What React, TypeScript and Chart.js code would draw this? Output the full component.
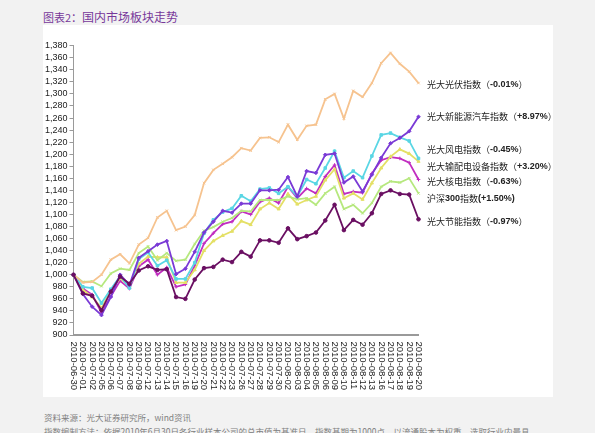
import React, { useEffect, useRef } from "react";
import { Chart, registerables } from "chart.js";

Chart.register(...registerables);

const dates = [
  "2010-06-30", "2010-07-01", "2010-07-02", "2010-07-05", "2010-07-06", "2010-07-07",
  "2010-07-08", "2010-07-09", "2010-07-12", "2010-07-13", "2010-07-14", "2010-07-15",
  "2010-07-16", "2010-07-19", "2010-07-20", "2010-07-21", "2010-07-22", "2010-07-23",
  "2010-07-26", "2010-07-27", "2010-07-28", "2010-07-29", "2010-07-30", "2010-08-02",
  "2010-08-03", "2010-08-04", "2010-08-05", "2010-08-06", "2010-08-09", "2010-08-10",
  "2010-08-11", "2010-08-12", "2010-08-13", "2010-08-16", "2010-08-17", "2010-08-18",
  "2010-08-19", "2010-08-20",
];

const guangfu = [1000, 987, 988, 1000, 1025, 1034, 1019, 1050, 1061, 1095, 1106, 1074, 1080, 1099, 1152, 1174, 1184, 1195, 1210, 1206, 1227, 1228, 1220, 1249, 1224, 1247, 1249, 1291, 1300, 1259, 1305, 1295, 1318, 1351, 1368, 1350, 1337, 1318];
const xinnengyuan = [1000, 968, 947, 933, 963, 1000, 983, 1028, 1039, 1050, 1056, 1001, 1010, 1038, 1070, 1088, 1106, 1103, 1118, 1118, 1140, 1140, 1141, 1162, 1130, 1172, 1169, 1199, 1201, 1153, 1163, 1138, 1166, 1194, 1218, 1227, 1238, 1262];
const fengdian = [1000, 980, 978, 953, 976, 998, 978, 1026, 1037, 1015, 1024, 993, 993, 1020, 1069, 1091, 1104, 1110, 1131, 1122, 1142, 1144, 1135, 1146, 1130, 1158, 1151, 1177, 1205, 1161, 1172, 1161, 1197, 1232, 1235, 1228, 1222, 1193];
const shupeidian = [1000, 975, 963, 945, 974, 994, 981, 1018, 1030, 1029, 1029, 987, 987, 1008, 1040, 1056, 1065, 1072, 1089, 1083, 1109, 1119, 1109, 1134, 1117, 1124, 1130, 1157, 1175, 1127, 1135, 1125, 1152, 1177, 1196, 1208, 1201, 1188];
const hedian = [1000, 977, 967, 937, 964, 990, 977, 1014, 1025, 1000, 1012, 980, 984, 1015, 1052, 1069, 1084, 1088, 1105, 1100, 1121, 1127, 1119, 1146, 1127, 1143, 1135, 1163, 1182, 1134, 1138, 1136, 1168, 1190, 1195, 1193, 1186, 1158];
const hs300 = [1000, 988, 989, 981, 1002, 1010, 1008, 1036, 1047, 1024, 1036, 1023, 1025, 1051, 1073, 1079, 1088, 1094, 1106, 1105, 1124, 1124, 1124, 1130, 1125, 1127, 1116, 1135, 1146, 1109, 1116, 1102, 1119, 1146, 1155, 1153, 1160, 1135];
const jieneng = [1000, 969, 965, 941, 972, 997, 985, 1007, 1014, 1008, 1009, 963, 960, 992, 1011, 1013, 1025, 1021, 1038, 1030, 1057, 1057, 1053, 1077, 1059, 1064, 1070, 1090, 1116, 1074, 1091, 1083, 1102, 1134, 1140, 1134, 1133, 1092];

const seriesNames = ["光大光伏指数", "光大新能源汽车指数", "光大风电指数", "光大输配电设备指数", "光大核电指数", "沪深300指数", "光大节能指数"];
const seriesPct = ["-0.01%", "+8.97%", "-0.45%", "+3.20%", "-0.63%", "+1.50%", "-0.97%"];
const labelAnchors = [1316, 1262, 1208, 1180, 1154, 1126, 1089];

const yMin = 900;
const yMax = 1380;
const yStep = 20;

const colors = ["#F6C38F", "#7A3AD6", "#5AD6E4", "#E4E066", "#C12EC0", "#B6E87E", "#6A0F62"];
const markers = ["crossRot", "rectRot", "rect", "triangle", "cross", "crossRot", "circle"];
const seriesData = [guangfu, xinnengyuan, fengdian, shupeidian, hedian, hs300, jieneng];
const drawOrder = [6, 0, 1, 2, 5, 3, 4];

const CJK = '"Noto Sans CJK SC", "Noto Sans", sans-serif';
const LAT = '"Liberation Sans", Arial, sans-serif';

const labelPlugin = {
  id: "customLabels",
  afterDraw(chart: any) {
    const ctx = chart.ctx;
    const xs = chart.scales.x;
    const ys = chart.scales.y;
    const area = chart.chartArea;
    ctx.save();
    ctx.fillStyle = "#222";
    ctx.font = `9.5px ${LAT}`;
    ctx.textAlign = "left";
    ctx.textBaseline = "middle";
    dates.forEach((d, i) => {
      const x = xs.getPixelForValue(i);
      ctx.save();
      ctx.translate(x, area.bottom + 6.5);
      ctx.rotate(Math.PI / 2);
      ctx.fillText(d, 0, 0);
      ctx.restore();
    });
    seriesNames.forEach((name, i) => {
      const y = ys.getPixelForValue(labelAnchors[i]);
      let x = area.right + 8.5;
      let segs: { t: string; b: boolean }[];
      if (name.startsWith("沪深")) {
        segs = [
          { t: "沪深", b: false },
          { t: "300", b: true },
          { t: "指数", b: false },
          { t: "(" + seriesPct[i] + ")", b: true },
        ];
      } else {
        segs = [
          { t: name, b: false },
          { t: "（", b: false },
          { t: seriesPct[i], b: true },
          { t: "）", b: false },
        ];
      }
      segs.forEach((s) => {
        ctx.font = s.b ? `bold 9px ${LAT}` : `9px ${CJK}`;
        ctx.fillStyle = "#222";
        ctx.fillText(s.t, x, y);
        x += ctx.measureText(s.t).width;
      });
    });
    ctx.restore();
  },
};

export default function App() {
  const ref = useRef<HTMLCanvasElement>(null);
  useEffect(() => {
    if (!ref.current) return;
    const datasets = drawOrder.map((k, idx) => ({
      label: seriesNames[k],
      data: seriesData[k],
      borderColor: colors[k],
      backgroundColor: colors[k],
      borderWidth: 1.8,
      pointStyle: markers[k] as any,
      pointRadius: 1.8,
      pointBorderWidth: 1,
      pointBorderColor: colors[k],
      pointBackgroundColor: colors[k],
      tension: 0,
      fill: false,
      order: idx,
    }));
    const chart = new Chart(ref.current, {
      type: "line",
      data: { labels: dates, datasets },
      options: {
        responsive: false,
        animation: false,
        devicePixelRatio: 1,
        layout: { padding: { top: 20.7, right: 134.5, bottom: 0, left: 0 } },
        plugins: { legend: { display: false }, tooltip: { enabled: false } },
        scales: {
          x: {
            offset: false,
            ticks: { display: false },
            grid: { display: false },
            border: { color: "#9a9a9a", width: 2 },
            afterFit: (s: any) => {
              s.height = 62;
            },
          },
          y: {
            min: yMin,
            max: yMax,
            ticks: {
              stepSize: yStep,
              autoSkip: false,
              color: "#222",
              padding: 2,
              font: { size: 9, family: LAT },
              callback: (v: any) => Number(v).toLocaleString("en-US"),
            },
            grid: { drawOnChartArea: false, drawTicks: true, tickLength: 4, color: "#9a9a9a" },
            border: { color: "#9a9a9a", width: 1 },
            afterFit: (s: any) => {
              s.width = 30.5;
            },
          },
        },
      },
      plugins: [labelPlugin],
    });
    return () => chart.destroy();
  }, []);

  return (
    <div
      style={{
        position: "fixed",
        left: 0,
        top: 0,
        width: 595,
        height: 433,
        background: "#f2f2f2",
        overflow: "hidden",
      }}
    >
      <div
        style={{
          position: "absolute",
          left: 43,
          top: 6,
          color: "#77389a",
          fontFamily: CJK,
          whiteSpace: "nowrap",
          lineHeight: "18px",
        }}
      >
        <span style={{ fontSize: 11 }}>图表2：</span>
        <span style={{ fontSize: 12 }}>国内市场板块走势</span>
      </div>
      <div
        style={{
          position: "absolute",
          left: 43,
          top: 25,
          width: 510,
          height: 372,
          background: "#ffffff",
        }}
      >
        <canvas ref={ref} width={510} height={372} style={{ width: 510, height: 372, display: "block" }} />
      </div>
      <div
        style={{
          position: "absolute",
          left: 44,
          top: 410,
          color: "#808080",
          fontFamily: CJK,
          fontSize: 8.5,
          whiteSpace: "nowrap",
          lineHeight: "14px",
        }}
      >
        <div>资料来源：光大证券研究所，wind资讯</div>
        <div>指数编制方法：依据2010年6月30日各行业样本公司的总市值为基准日，指数基期为1000点，以流通股本为权重，选取行业内最具</div>
      </div>
    </div>
  );
}
